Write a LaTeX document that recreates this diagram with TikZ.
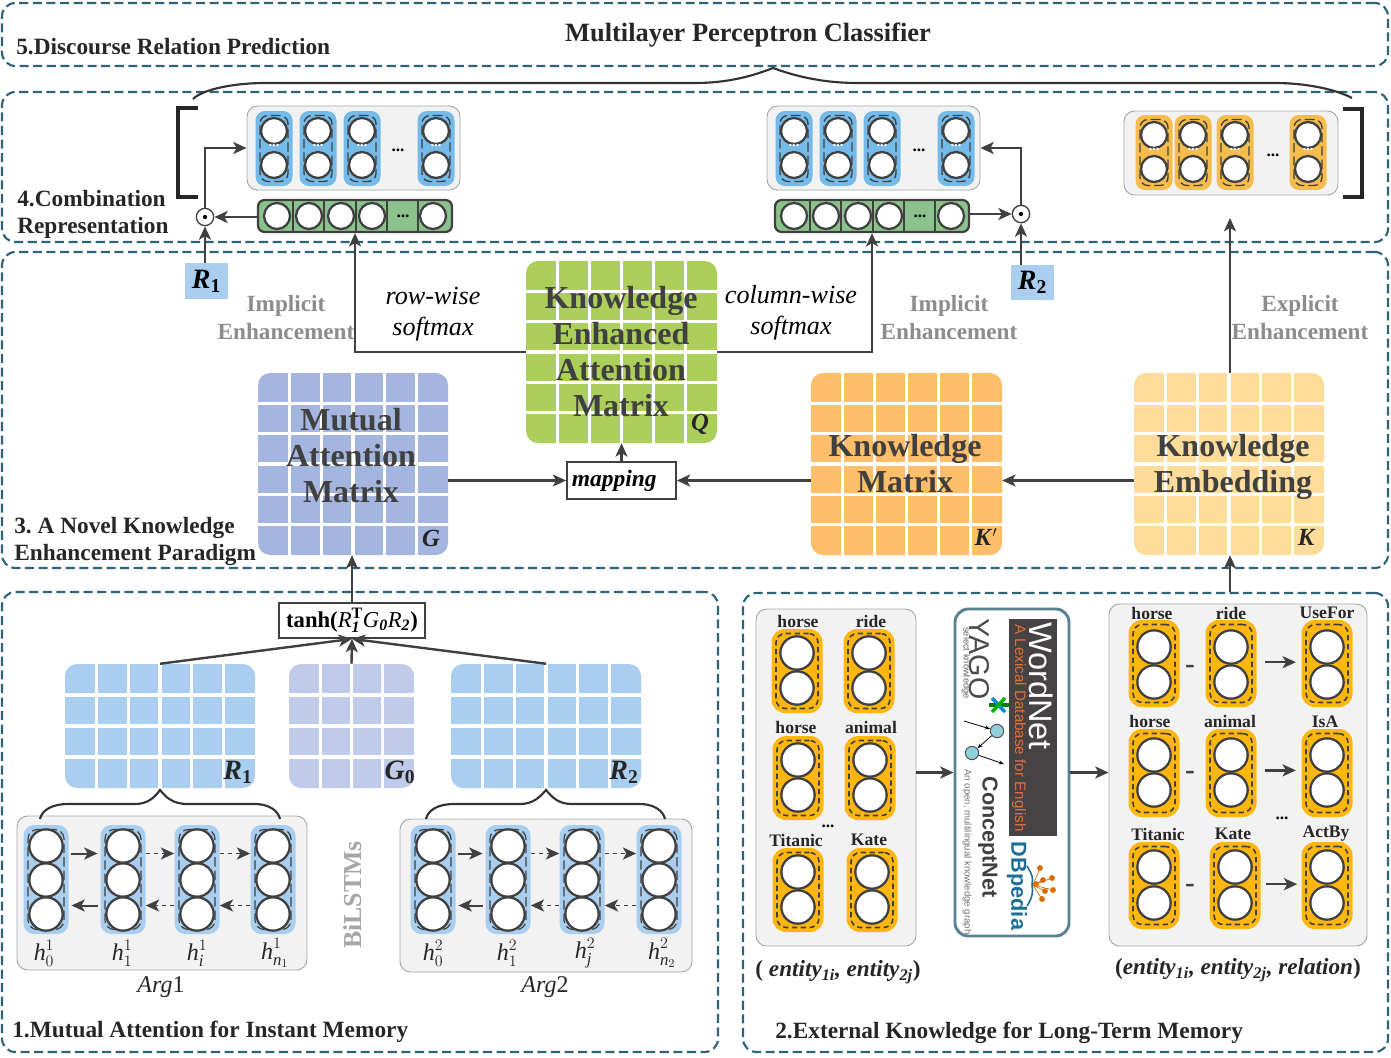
\documentclass[tikz,border=0pt]{standalone}
\usepackage{amsmath}
\usepackage{fontspec}
\setmainfont{Liberation Serif}
\newfontfamily\logofont{Liberation Sans}
\usetikzlibrary{arrows.meta}
\frenchspacing
\definecolor{panelc}{HTML}{2F6378}
\definecolor{inkc}{HTML}{404040}
\definecolor{grayt}{HTML}{8C8C8C}
\definecolor{grayb}{HTML}{F2F2F2}
\definecolor{bluep}{HTML}{74BBEA}
\definecolor{lbluep}{HTML}{A9CEEF}
\definecolor{orp}{HTML}{F7BC4E}
\definecolor{ambp}{HTML}{FFB70F}
\definecolor{greenp}{HTML}{8CC38C}
\definecolor{matq}{HTML}{ACCF5C}
\definecolor{matg}{HTML}{A4B6E0}
\definecolor{matgz}{HTML}{BFCBE9}
\definecolor{matkp}{HTML}{FFBE6A}
\definecolor{matk}{HTML}{FFDC99}
\definecolor{wnbar}{HTML}{474344}
\definecolor{wnorange}{HTML}{E0703A}
\definecolor{dbblue}{HTML}{1E6E96}
\definecolor{cnnode}{HTML}{8FD0DC}
\newcommand{\fsz}[1]{\fontsize{#1}{#1}\selectfont}
\newcommand{\boxat}[7]{%
	\pgfmathsetmacro\bw{((#5)-(#3))*0.75}%
	\pgfmathsetmacro\bh{((#6)-(#4))*0.75}%
	\node[#1, minimum width=\bw pt, minimum height=\bh pt, inner sep=0pt] (#2) at ({((#3)+(#5))/2},{((#4)+(#6))/2}) {#7};
}
\newcommand{\gridmat}[8]{%
	\boxat{mat, fill=#8}{#1}{#2}{#3}{#4}{#5}{}
	\pgfmathtruncatemacro\nc{#6-1}%
	\pgfmathtruncatemacro\nr{#7-1}%
	\foreach \i in {1,...,\nc} \draw[gridline] ({#2+\i*(#4-#2)/#6},#3) -- ({#2+\i*(#4-#2)/#6},#5);
	\foreach \i in {1,...,\nr} \draw[gridline] (#2,{#3+\i*(#5-#3)/#7}) -- (#4,{#3+\i*(#5-#3)/#7});
}
\newcommand{\pill}[8]{%
	\boxat{#1}{#2}{#3-#4}{#5}{#3+#4}{#6}{}
	\boxat{#1dash}{#2-in}{#3-#4+4.5}{#5+4.5}{#3+#4-4.5}{#6-4.5}{}
	\foreach \cy [count=\n] in {#7} {\node[#8] (#2-\n) at (#3,\cy) {};}
}
\newcommand{\toppill}[4]{%
	\pill{#1}{#2}{#3}{18.5}{#4}{#4+75}{#4+20,#4+54}{cellm}
	\node[dotw] (#2-d) at (#3,{#4+37}) {...};
}
\newcommand{\kpill}[4]{%
	\pill{kp}{#1}{#2}{25.5}{#3}{#4}{#3+24,#3+59}{celll}
}
\begin{document}
\begin{tikzpicture}[
		x=0.75pt, y=-0.75pt,
		panel/.style = {draw=panelc, line width=1.6pt, dash pattern=on 6.8pt off 3.4pt, rounded corners=10pt},
		gbox/.style = {draw=black!35, line width=0.7pt, fill=grayb, rounded corners=8pt},
		mat/.style = {rounded corners=9pt},
		gridline/.style = {white, line width=2.3pt},
		bp/.style = {fill=bluep, rounded corners=7pt},
		bpdash/.style = {draw=inkc, line width=1pt, dash pattern=on 7pt off 3pt, rounded corners=6pt},
		op/.style = {fill=orp, rounded corners=7pt},
		opdash/.style = {draw=inkc, line width=1pt, dash pattern=on 7pt off 3pt, rounded corners=6pt},
		lp/.style = {fill=lbluep, rounded corners=8pt},
		lpdash/.style = {draw=inkc, line width=0.9pt, dash pattern=on 7pt off 3pt, rounded corners=7pt},
		kp/.style = {fill=ambp, rounded corners=10pt},
		kpdash/.style = {draw=inkc, line width=1.2pt, dash pattern=on 4pt off 2.6pt, rounded corners=7pt},
		circ/.style = {circle, draw=inkc, fill=white, line width=1.7pt, inner sep=0pt, minimum size=20pt},
		cellm/.style = {circ, minimum size=19.5pt},
		celll/.style = {circ, minimum size=25pt},
		cellb/.style = {circ, minimum size=25pt},
		dotw/.style = {white, font=\bfseries\fsz{11}, inner sep=0pt, yshift=2pt},
		dotk/.style = {font=\bfseries\fsz{13}, inner sep=0pt},
		strip/.style = {draw=inkc, line width=1.7pt, fill=greenp, rounded corners=5pt},
		stripline/.style = {inkc, line width=1.3pt},
		odot/.style = {circle, draw=inkc, fill=white, line width=1pt, inner sep=0pt, minimum size=13pt},
		odotc/.style = {circle, fill=black, inner sep=0pt, minimum size=3.2pt},
		rbox/.style = {fill=lbluep, font=\bfseries\itshape\fsz{21}},
		arr/.style = {-{Stealth[length=10pt, width=9pt, inset=2.6pt]}, inkc, line width=1.8pt},
		arrd/.style = {arr, dash pattern=on 3.5pt off 2.5pt, line width=1.4pt},
		bracket/.style = {draw=black!85, line width=2.4pt},
		curly/.style = {draw=black!80, line width=1.6pt},
		head/.style = {font=\bfseries\fsz{17.5}, text=black!85, anchor=west, inner sep=0pt},
		headtwo/.style = {head, align=left, font=\bfseries\fontsize{17.5}{20.3}\selectfont},
		gain/.style = {font=\bfseries\fontsize{17.4}{21}\selectfont, text=grayt, align=center, inner sep=0pt},
		softl/.style = {font=\itshape\fontsize{19.6}{23}\selectfont, align=center, inner sep=0pt},
		matl/.style = {font=\bfseries\fontsize{24}{27}\selectfont, text=inkc, align=center, inner sep=0pt},
		cornl/.style = {font=\bfseries\itshape\fsz{18.5}, text=black!85, inner sep=0pt},
		word/.style = {font=\bfseries\fsz{13.2}, text=black!85, inner sep=0pt},
		capl/.style = {font=\bfseries\itshape\fsz{17.4}, text=black!85, inner sep=0pt},
		hl/.style = {font=\fsz{18}, inner sep=0pt, text=black!85},
		logo/.style = {rotate=-90, inner sep=0pt, font=\logofont}
	]
	\useasboundingbox (0,0) rectangle (1391,1057);

	\boxat{panel}{stepF}{2}{3}{1388}{66}{}
	\boxat{panel}{stepD}{2}{92}{1388}{242}{}
	\boxat{panel}{stepC}{2}{252}{1388}{568}{}
	\boxat{panel}{stepA}{2}{592}{718}{1052}{}
	\boxat{panel}{stepB}{743}{593}{1388}{1052}{}

	\node[head] (headF) at (16,47) {5.Discourse Relation Prediction};
	\node[font=\bfseries\fsz{19.8}, text=black!85, inner sep=0pt] (mlp) at (748,35) {Multilayer Perceptron Classifier};
	\node[headtwo] (headD) at (17,214.5) {4.Combination\\Representation};
	\node[headtwo] (headC) at (14,541.5) {3. A Novel Knowledge\\Enhancement Paradigm};
	\node[head] (headA) at (12,1032) {1.Mutual Attention for Instant Memory};
	\node[head] (headB) at (775,1033) {2.External Knowledge for Long-Term Memory};

	\draw[curly] (193,99) .. controls (203,89) and (235,83) .. (265,83) -- (695,83) .. controls (730,83) and (755,75) .. (773,68) .. controls (792,75) and (820,83) .. (858,83) -- (1275,83) .. controls (1305,83) and (1335,89) .. (1352,98);
	\draw[bracket] (198,108) -- (178,108) -- (178,197) -- (198,197);
	\draw[bracket] (1343,109) -- (1362,109) -- (1362,197) -- (1343,197);

	\boxat{gbox}{blkA}{247}{106}{460}{190}{}
	\foreach \px/\pn in {274/a,318/b,362/c,436/d} {\toppill{bp}{blkA\pn}{\px}{111}}
	\node[dotk] (blkAd) at (398,150) {...};
	\boxat{gbox}{blkB}{767}{106}{980}{190}{}
	\foreach \px/\pn in {794/a,838/b,882/c,956/d} {\toppill{bp}{blkB\pn}{\px}{111}}
	\node[dotk] (blkBd) at (919,150) {...};
	\boxat{gbox}{blkC}{1124}{111}{1338}{195}{}
	\foreach \px/\pn in {1154/a,1193/b,1235/c,1308/d} {\toppill{op}{blkC\pn}{\px}{115}}
	\node[dotk] (blkCd) at (1273,155) {...};

	\boxat{strip}{stripA}{258}{200}{452}{232}{}
	\foreach \x in {293,324,356,387,418} \draw[stripline] (\x,200) -- (\x,232);
	\foreach \x [count=\n] in {277,309,341,372,433} \node[cellm] (stripA-\n) at (\x,216) {};
	\node[dotk] (stripAd) at (403,216) {...};
	\boxat{strip}{stripB}{775}{200}{969}{232}{}
	\foreach \x in {810,841,873,904,935} \draw[stripline] (\x,200) -- (\x,232);
	\foreach \x [count=\n] in {794,826,858,889,951} \node[cellm] (stripB-\n) at (\x,216) {};
	\node[dotk] (stripBd) at (920,216) {...};

	\node[odot] (odotA) at (205,217) {};
	\node[odotc] (odotAc) at (odotA) {};
	\node[odot] (odotB) at (1021,214) {};
	\node[odotc] (odotBc) at (odotB) {};
	\boxat{rbox}{ronebox}{185}{263}{228}{299}{R\textsubscript{\textup{1}}}
	\boxat{rbox}{rtwobox}{1011}{265}{1054}{300}{R\textsubscript{\textup{2}}}
	\draw[arr] (odotA -| stripA.west) -- (odotA);
	\draw[arr] (ronebox.north -| odotA) -- (odotA);
	\draw[arr] (odotA.north) |- (blkA.west);
	\draw[arr] (odotB -| stripB.east) -- (odotB);
	\draw[arr] (rtwobox.north -| odotB) -- (odotB);
	\draw[arr] (odotB.north) |- (blkB.east);

	\gridmat{matQ}{526}{261}{717}{443}{6}{6}{matq}
	\gridmat{matG}{258}{373}{448}{555}{6}{6}{matg}
	\gridmat{matKp}{811}{373}{1002}{555}{6}{6}{matkp}
	\gridmat{matK}{1134}{373}{1324}{555}{6}{6}{matk}
	\node[matl] (lblQ) at (621,352) {Knowledge\\Enhanced\\Attention\\Matrix};
	\node[matl] (lblG) at (351,456) {Mutual\\Attention\\Matrix};
	\node[matl] (lblKp) at (905,464) {Knowledge\\Matrix};
	\node[matl] (lblK) at (1233,467) {Knowledge\\Embedding};
	\node[cornl] (cornQ) at (700,424) {Q};
	\node[cornl] (cornG) at (431,538) {G};
	\node[cornl] (cornKp) at (986,537) {K\textup{$'$}};
	\node[cornl] (cornK) at (1306,537) {K};

	\node[gain] (gainA) at (286,318) {Implicit\\Enhancement};
	\node[gain] (gainB) at (949,318) {Implicit\\Enhancement};
	\node[gain] (gainC) at (1300,318) {Explicit\\Enhancement};
	\node[softl] (softA) at (433,314) {row-wise\\softmax};
	\node[softl] (softB) at (791,313) {column-wise\\softmax};

	\boxat{draw=inkc, line width=1.3pt, fill=white, font=\bfseries\itshape\fsz{17.6}}{mapbox}{567}{462}{676}{499}{\hspace*{-11pt}\raisebox{-1.5pt}{mapping}}
	\coordinate (topK) at (1230,218);
	\coordinate (kbOut) at (1230,592);
	\draw[arr] (matQ.west) -| (stripA.south);
	\draw[arr] (matQ.east) -| (stripB.south);
	\draw[arr] (mapbox.west -| matG.east) -- (mapbox.west);
	\draw[arr] (mapbox.east -| matKp.west) -- (mapbox.east);
	\draw[arr] (mapbox.east -| matK.west) -- (mapbox.east -| matKp.east);
	\draw[arr] (mapbox.north) -- (mapbox.north |- matQ.south);
	\draw[arr] (matK.north -| topK) -- (topK);
	\draw[arr] (kbOut) -- (matK.south -| kbOut);

	\gridmat{matRa}{65}{664}{255}{788}{6}{4}{lbluep}
	\gridmat{matGz}{289}{664}{414}{788}{4}{4}{matgz}
	\gridmat{matRb}{451}{664}{641}{788}{6}{4}{lbluep}
	\node[cornl, font=\bfseries\itshape\fsz{21}] (cornRa) at (238,772) {R\textsubscript{\textup{1}}};
	\node[cornl, font=\bfseries\itshape\fsz{21}] (cornGz) at (400,772) {G\textsubscript{\textup{0}}};
	\node[cornl, font=\bfseries\itshape\fsz{21}] (cornRb) at (624,772) {R\textsubscript{\textup{2}}};
	\boxat{draw=inkc, line width=1.3pt, fill=white, font=\fsz{17}}{tanhbox}{279}{603}{425}{638}{\raisebox{-2.5pt}{\textbf{tanh(}$\textit{R}_{\textit{\textbf{1}}}^{\textbf{T}}\textit{G}_{\textit{\textbf{0}}}\textit{R}_{\textit{\textbf{2}}}$\textbf{)}}}
	\draw[arr] (matRa.north) -- (tanhbox.south);
	\draw[arr] (matGz.north) -- (tanhbox.south);
	\draw[arr] (matRb.north) -- (tanhbox.south);
	\draw[arr] (tanhbox.north) -- (tanhbox.north |- matG.south);

	\boxat{gbox}{argA}{17}{816}{307}{970}{}
	\boxat{gbox}{argB}{400}{819}{692}{972}{}
	\foreach \px/\pn in {46/a,123/b,197/c,273/d} {\pill{lp}{lstA\pn}{\px}{22.5}{825}{934}{846,880,914}{cellb}}
	\foreach \px/\pn in {433/a,508/b,582/c,659/d} {\pill{lp}{lstB\pn}{\px}{22.5}{825}{934}{846,880,914}{cellb}}
	\foreach \lst in {lstA,lstB} {
		\draw[arr, line width=1.5pt] ([yshift=19.5pt,xshift=2pt]\lst a.east) -- ([yshift=19.5pt,xshift=-2pt]\lst b.west);
		\draw[arrd] ([yshift=19.5pt]\lst b.east) -- ([yshift=19.5pt]\lst c.west);
		\draw[arrd] ([yshift=19.5pt]\lst c.east) -- ([yshift=19.5pt]\lst d.west);
		\draw[arr, line width=1.5pt] ([yshift=-19.5pt,xshift=-2pt]\lst b.west) -- ([yshift=-19.5pt,xshift=2pt]\lst a.east);
		\draw[arrd] ([yshift=-19.5pt]\lst c.west) -- ([yshift=-19.5pt]\lst b.east);
		\draw[arrd] ([yshift=-19.5pt]\lst d.west) -- ([yshift=-19.5pt]\lst c.east);
	}
	\draw[curly] (40,819) .. controls (42,810) and (52,804) .. (68,804) -- (135,804) .. controls (148,804) and (155,797) .. (160,790) .. controls (166,797) and (172,804) .. (188,804) -- (255,804) .. controls (268,804) and (278,810) .. (280,819);
	\draw[curly] (426,819) .. controls (428,810) and (438,804) .. (454,804) -- (520,804) .. controls (533,804) and (540,797) .. (546,790) .. controls (552,797) and (558,804) .. (572,804) -- (640,804) .. controls (653,804) and (663,810) .. (665,819);
	\node[hl] (hAa) at (44,953) {$\textit{h}_{0}^{1}$};
	\node[hl] (hAb) at (122,953) {$\textit{h}_{1}^{1}$};
	\node[hl] (hAc) at (197,953) {$\textit{h}_{\textit{i}}^{1}$};
	\node[hl] (hAd) at (275,953) {$\textit{h}_{\textit{n}_{1}}^{1}$};
	\node[hl] (hBa) at (433,953) {$\textit{h}_{0}^{2}$};
	\node[hl] (hBb) at (507,953) {$\textit{h}_{1}^{2}$};
	\node[hl] (hBc) at (585,953) {$\textit{h}_{\textit{j}}^{2}$};
	\node[hl] (hBd) at (662,953) {$\textit{h}_{\textit{n}_{2}}^{2}$};
	\node[hl] (argAl) at (161,987) {\textit{Arg}1};
	\node[hl] (argBl) at (545,987) {\textit{Arg}2};
	\node[rotate=90, font=\bfseries\fsz{19.4}, text=black!35, inner sep=0pt] (bilstm) at (353,895) {BiLSTMs};

	\boxat{gbox}{kbIn}{756}{609}{916}{946}{}
	\kpill{pa}{797}{629}{713}
	\kpill{pb}{869}{629}{713}
	\kpill{pc}{798}{736}{820}
	\kpill{pd}{870}{736}{820}
	\kpill{pe}{798}{848}{932}
	\kpill{pf}{872}{848}{932}
	\node[word] (wa) at (798,621) {horse};
	\node[word] (wb) at (871,621) {ride};
	\node[word] (wc) at (796,727) {horse};
	\node[word] (wd) at (871,727) {animal};
	\node[word] (we) at (796,840) {Titanic};
	\node[word] (wf) at (869,840) {Kate};
	\node[dotk] (wdots) at (828,826) {...};
	\node[capl] (capIn) at (838,972) {\textup{(} entity\textsubscript{1i}, entity\textsubscript{2j}\textup{)}};

	\boxat{draw=panelc!80, line width=2.2pt, fill=white, rounded corners=10pt}{kbLogo}{955}{609}{1069}{936}{}
	\boxat{fill=wnbar}{wnBar}{1009}{619}{1057}{836}{}
	\node[logo, text=white, font=\logofont\fsz{24.4}] (wnName) at (1041,686) {WordNet};
	\node[logo, text=wnorange, font=\logofont\fsz{11.4}] (wnSub) at (1019,728) {A Lexical Database for English};
	\node[logo, text=black!70, font=\logofont\fsz{21.5}] (yago) at (979,659) {YAGO};
	\node[logo, text=black!60, font=\logofont\fsz{7}] (yagoSub) at (966,663) {select knowledge};
	\draw[line width=2.6pt, green!50!black] (989,705) -- (1009,705);
	\draw[line width=2.6pt, cyan!70!blue] (992,698) -- (1005,712);
	\draw[line width=2.6pt, green!70!black] (1005,698) -- (992,712);
	\node[circle, draw=black!70, fill=cnnode, line width=0.7pt, minimum size=10pt, inner sep=0pt] (cnA) at (997,731) {};
	\node[circle, draw=black!70, fill=cnnode, line width=0.7pt, minimum size=10pt, inner sep=0pt] (cnB) at (972,753) {};
	\coordinate (cnIn) at (964,721);
	\coordinate (cnOut) at (1004,764);
	\draw[-{Stealth[length=4pt]}, line width=0.6pt] (cnIn) -- (cnA);
	\draw[-{Stealth[length=4pt]}, line width=0.6pt] (cnA) -- (cnB);
	\draw[-{Stealth[length=4pt]}, line width=0.6pt] (cnB) -- (cnOut);
	\node[logo, text=black!75, font=\logofont\bfseries\fsz{16.2}] (cnet) at (988,837) {ConceptNet};
	\node[logo, text=black!55, font=\logofont\fsz{7.2}] (cnetSub) at (967,852) {An open, multilingual knowledge graph};
	\node[logo, text=dbblue, font=\logofont\bfseries\fsz{16.3}] (dbp) at (1017,886) {DBpedia};
	\draw[dbblue, line width=1.2pt] (1027,866) .. controls (1033,876) and (1033,878) .. (1032,885) .. controls (1033,892) and (1033,896) .. (1027,906);
	\foreach \dx/\dy in {1040/868,1052/878,1053/890,1042/899,1036/884,1043/880,1045/891} {
		\fill[orange!85!black] (\dx,\dy) circle (2.2pt);
		\draw[orange!85!black, line width=0.5pt] (1033,885) -- (\dx,\dy);
	}

	\boxat{gbox}{kbOutBox}{1109}{604}{1367}{946}{}
	\pill{kp}{qa}{1154}{25.5}{620}{707}{647,682}{celll}
	\pill{kp}{qb}{1231}{25.5}{620}{707}{647,682}{celll}
	\pill{kp}{qc}{1327}{25.5}{620}{707}{647,682}{celll}
	\pill{kp}{qd}{1154}{25.5}{729}{817}{755,790}{celll}
	\pill{kp}{qe}{1231}{25.5}{729}{817}{755,790}{celll}
	\pill{kp}{qf}{1327}{25.5}{729}{817}{755,790}{celll}
	\pill{kp}{qg}{1154}{25.5}{842}{929}{867,903}{celll}
	\pill{kp}{qh}{1235}{25.5}{842}{929}{867,903}{celll}
	\pill{kp}{qi}{1327}{25.5}{842}{929}{867,903}{celll}
	\foreach \nm/\lx/\ly/\lt in {xa/1152/613/horse,xb/1231/613/ride,xc/1327/613/UseFor,xd/1150/721/horse,xe/1230/721/animal,xf/1325/722/IsA,xg/1158/834/Titanic,xh/1233/834/Kate,xi/1326/834/ActBy}
		\node[word] (\nm) at (\lx,\ly) {\lt};
	\node[dotk] (xdots) at (1282,818) {...};
	\foreach \nm/\my in {ma/669,mb/775,mc/888} \node[font=\bfseries\fsz{22}, text=inkc, inner sep=0pt] (\nm) at (1190,\my) {-};
	\draw[arr] ([xshift=6pt,yshift=1pt]qb.east) -- ([xshift=-4pt,yshift=1pt]qc.west);
	\draw[arr] ([xshift=6pt,yshift=2pt]qe.east) -- ([xshift=-4pt,yshift=2pt]qf.west);
	\draw[arr] ([xshift=4pt,yshift=1pt]qh.east) -- ([xshift=-3pt,yshift=1pt]qi.west);
	\node[capl] (capOut) at (1238,970) {\textup{(}entity\textsubscript{1i}, entity\textsubscript{2j}, relation\textup{)}};
	\draw[arr] (kbIn.east |- kbLogo.west) -- (kbLogo.west);
	\draw[arr] (kbLogo.east) -- (kbLogo.east -| kbOutBox.west);
\end{tikzpicture}
\end{document}
